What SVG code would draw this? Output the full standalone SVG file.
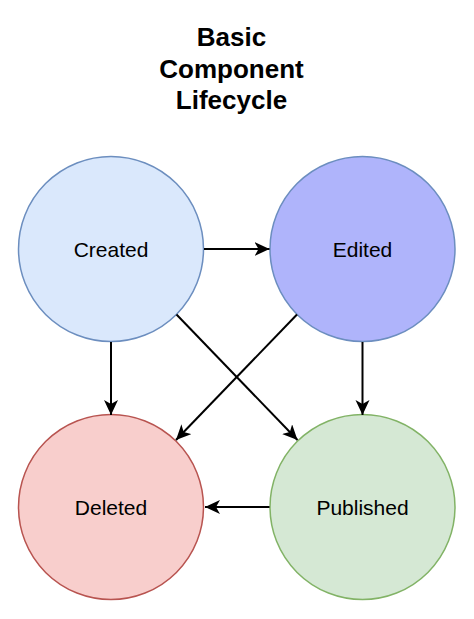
<svg xmlns="http://www.w3.org/2000/svg" width="474" height="619" viewBox="0 0 474 619">
<style>
.node{stroke-width:1.5}
.lbl{font-family:"Liberation Sans",Arial,sans-serif;font-size:21px;fill:#000;text-anchor:middle}
.title{font-family:"Liberation Sans",Arial,sans-serif;font-size:26px;font-weight:bold;fill:#000;text-anchor:middle}
.edge{stroke:#000;stroke-width:2;fill:none;marker-end:url(#arr)}
</style>
<defs>
<marker id="arr" markerUnits="userSpaceOnUse" markerWidth="16" markerHeight="15" refX="15" refY="7" orient="auto">
<path d="M0,0 L15,7 L0,14 L4,7 z" fill="#000"/>
</marker>
</defs>
<rect width="474" height="619" fill="#fff"/>
<g id="title">
<text class="title" x="231.5" y="46">Basic</text>
<text class="title" x="231.5" y="77.5">Component</text>
<text class="title" x="231.5" y="109">Lifecycle</text>
</g>
<g id="created">
<circle class="node" cx="111" cy="249" r="92.5" fill="#dae8fc" stroke="#6c8ebf"/>
<text class="lbl" x="111" y="256.5">Created</text>
</g>
<g id="edited">
<circle class="node" cx="362.5" cy="249" r="92.5" fill="#afb4fb" stroke="#6c8ebf"/>
<text class="lbl" x="362.5" y="256.5">Edited</text>
</g>
<g id="deleted">
<circle class="node" cx="111" cy="507" r="92.5" fill="#f8cecc" stroke="#b85450"/>
<text class="lbl" x="111" y="514.5">Deleted</text>
</g>
<g id="published">
<circle class="node" cx="362.5" cy="507" r="92.5" fill="#d5e8d4" stroke="#82b366"/>
<text class="lbl" x="362.5" y="514.5">Published</text>
</g>
<g id="connectors">
<line class="edge" x1="204" y1="249" x2="269.5" y2="249"/>
<line class="edge" x1="111" y1="342" x2="111" y2="415"/>
<line class="edge" x1="362.5" y1="342" x2="362.5" y2="415"/>
<line class="edge" x1="269.5" y1="507" x2="205" y2="507"/>
<line class="edge" x1="176.5" y1="314.5" x2="297.5" y2="440"/>
<line class="edge" x1="297" y1="314.5" x2="176" y2="440"/>
</g>
</svg>
